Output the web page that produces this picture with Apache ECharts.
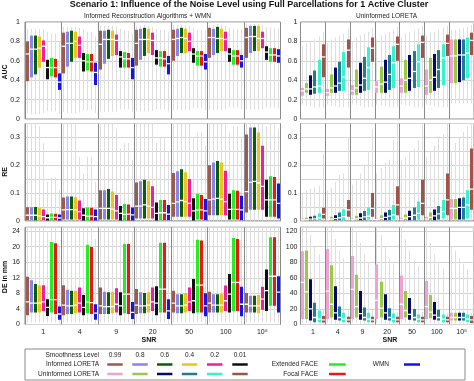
<!DOCTYPE html>
<html><head><meta charset="utf-8">
<script src="https://cdn.jsdelivr.net/npm/echarts@6/dist/echarts.min.js"></script>
<style>html,body{margin:0;padding:0;background:#fff}#c{width:474px;height:381px}</style>
</head><body><div id="c"></div>
<script>
// ---------- categories / labels ----------
const snrLabels = ['1', '4', '9', '20', '50', '100', '10⁸'];
const smoothLevels = ['0.99', '0.8', '0.6', '0.4', '0.2', '0.01'];
const metricNames = ['AUC', 'RE', 'DE in mm'];
const aucTicks = [0, 0.2, 0.4, 0.6, 0.8, 1];
const reTicks = [0, 0.1, 0.2, 0.3];
const deLeftTicks = [0, 4, 8, 12, 16, 20, 24];
const deRightTicks = [0, 20, 40, 60, 80, 100, 120];

// each entry per SNR group: [min, q1, median, q3, max]
// ---------- AUC, informed algorithms ----------
const aucInf099 = [[0.06,0.39,0.67,0.80,0.93],[0.07,0.47,0.75,0.89,0.95],[0.08,0.51,0.77,0.91,0.96],[0.08,0.55,0.78,0.92,0.96],[0.09,0.60,0.82,0.92,0.97],[0.09,0.63,0.84,0.94,0.97],[0.10,0.63,0.84,0.94,0.98]];
const aucInf08  = [[0.05,0.43,0.72,0.86,0.93],[0.06,0.54,0.78,0.90,0.95],[0.07,0.57,0.82,0.91,0.96],[0.08,0.61,0.82,0.93,0.96],[0.09,0.65,0.83,0.93,0.97],[0.09,0.66,0.84,0.93,0.97],[0.10,0.68,0.85,0.96,0.98]];
const aucInf06  = [[0.05,0.46,0.72,0.86,0.93],[0.06,0.59,0.78,0.91,0.95],[0.07,0.62,0.82,0.92,0.96],[0.08,0.65,0.82,0.94,0.97],[0.09,0.68,0.84,0.94,0.97],[0.09,0.68,0.83,0.95,0.98],[0.10,0.70,0.85,0.96,0.98]];
const aucInf04  = [[0.05,0.53,0.73,0.85,0.93],[0.06,0.63,0.80,0.90,0.95],[0.07,0.65,0.82,0.91,0.96],[0.08,0.68,0.82,0.93,0.96],[0.09,0.68,0.83,0.93,0.97],[0.09,0.70,0.83,0.93,0.97],[0.10,0.70,0.83,0.96,0.98]];
const aucInf02  = [[0.06,0.59,0.75,0.81,0.92],[0.07,0.63,0.76,0.85,0.94],[0.08,0.66,0.81,0.87,0.95],[0.08,0.66,0.81,0.89,0.95],[0.09,0.70,0.80,0.89,0.96],[0.10,0.70,0.82,0.90,0.96],[0.10,0.73,0.83,0.90,0.97]];
const aucInf001 = [[0.08,0.41,0.53,0.61,0.90],[0.09,0.49,0.60,0.68,0.92],[0.10,0.53,0.64,0.70,0.93],[0.10,0.56,0.63,0.71,0.93],[0.11,0.58,0.67,0.73,0.94],[0.12,0.59,0.67,0.73,0.94],[0.12,0.61,0.69,0.75,0.95]];
const aucExtFace = [[0.08,0.44,0.53,0.63,0.88],[0.09,0.50,0.59,0.67,0.90],[0.10,0.53,0.62,0.69,0.91],[0.10,0.54,0.63,0.70,0.92],[0.11,0.55,0.65,0.70,0.92],[0.12,0.56,0.65,0.71,0.93],[0.12,0.59,0.66,0.73,0.94]];
const aucFocFace = [[0.08,0.43,0.53,0.62,0.88],[0.09,0.49,0.59,0.67,0.90],[0.10,0.53,0.62,0.68,0.91],[0.10,0.54,0.62,0.70,0.92],[0.11,0.55,0.65,0.70,0.92],[0.12,0.56,0.65,0.71,0.93],[0.12,0.59,0.66,0.73,0.94]];
const aucWmn    = [[0.05,0.30,0.38,0.47,0.80],[0.06,0.35,0.48,0.58,0.85],[0.07,0.41,0.53,0.63,0.88],[0.08,0.46,0.57,0.65,0.90],[0.09,0.51,0.59,0.67,0.91],[0.10,0.53,0.60,0.66,0.92],[0.11,0.58,0.65,0.72,0.93]];
// ---------- AUC, uninformed LORETA ----------
const aucUni099 = [[0.15,0.24,0.29,0.32,0.75],[0.15,0.24,0.27,0.31,0.78],[0.15,0.25,0.29,0.35,0.80],[0.15,0.27,0.33,0.39,0.82],[0.15,0.27,0.34,0.42,0.84],[0.15,0.25,0.34,0.51,0.86],[0.16,0.37,0.65,0.82,0.92]];
const aucUni08  = [[0.14,0.27,0.31,0.37,0.78],[0.14,0.27,0.32,0.46,0.82],[0.14,0.25,0.32,0.51,0.84],[0.14,0.27,0.36,0.54,0.86],[0.14,0.27,0.40,0.61,0.88],[0.14,0.27,0.40,0.63,0.89],[0.16,0.37,0.65,0.82,0.92]];
const aucUni06  = [[0.13,0.25,0.31,0.45,0.80],[0.13,0.27,0.34,0.53,0.84],[0.13,0.27,0.35,0.58,0.86],[0.13,0.27,0.38,0.61,0.88],[0.13,0.29,0.42,0.66,0.89],[0.13,0.29,0.43,0.67,0.90],[0.16,0.38,0.66,0.82,0.93]];
const aucUni04  = [[0.12,0.26,0.33,0.50,0.82],[0.12,0.29,0.37,0.59,0.86],[0.12,0.29,0.42,0.64,0.88],[0.12,0.30,0.46,0.66,0.90],[0.12,0.32,0.49,0.70,0.91],[0.12,0.32,0.51,0.71,0.92],[0.16,0.40,0.66,0.82,0.94]];
const aucUni02  = [[0.12,0.27,0.34,0.61,0.85],[0.12,0.29,0.43,0.69,0.88],[0.12,0.30,0.53,0.74,0.90],[0.12,0.32,0.58,0.75,0.92],[0.12,0.33,0.59,0.77,0.93],[0.12,0.35,0.63,0.77,0.94],[0.16,0.42,0.68,0.84,0.95]];
const aucUni001 = [[0.12,0.43,0.64,0.77,0.90],[0.12,0.53,0.71,0.82,0.93],[0.12,0.59,0.73,0.84,0.94],[0.12,0.60,0.77,0.85,0.95],[0.12,0.63,0.79,0.86,0.96],[0.12,0.65,0.78,0.87,0.96],[0.16,0.66,0.81,0.89,0.97]];
// ---------- RE, informed algorithms ----------
const reInf099 = [[0,0.002,0.020,0.049,0.36],[0,0.005,0.039,0.084,0.36],[0,0.005,0.045,0.110,0.36],[0,0.008,0.053,0.138,0.36],[0,0.015,0.063,0.172,0.36],[0,0.020,0.075,0.200,0.36],[0,0.030,0.105,0.310,0.36]];
const reInf08  = [[0,0.002,0.020,0.049,0.36],[0,0.005,0.040,0.087,0.36],[0,0.005,0.045,0.110,0.36],[0,0.008,0.053,0.142,0.36],[0,0.015,0.068,0.178,0.36],[0,0.020,0.078,0.210,0.36],[0,0.040,0.138,0.336,0.36]];
const reInf06  = [[0,0.001,0.020,0.050,0.36],[0,0.005,0.040,0.087,0.36],[0,0.005,0.045,0.114,0.36],[0,0.008,0.057,0.148,0.36],[0,0.015,0.073,0.185,0.36],[0,0.020,0.081,0.215,0.36],[0,0.040,0.142,0.336,0.36]];
const reInf04  = [[0,0.002,0.018,0.047,0.34],[0,0.005,0.039,0.085,0.36],[0,0.005,0.042,0.105,0.36],[0,0.008,0.053,0.142,0.36],[0,0.015,0.069,0.175,0.36],[0,0.020,0.078,0.210,0.36],[0,0.040,0.136,0.318,0.36]];
const reInf02  = [[0,0.002,0.015,0.041,0.28],[0,0.005,0.033,0.073,0.23],[0,0.005,0.036,0.093,0.33],[0,0.008,0.048,0.124,0.36],[0,0.015,0.063,0.150,0.36],[0,0.020,0.069,0.180,0.36],[0,0.040,0.124,0.270,0.36]];
const reInf001 = [[0,0.000,0.011,0.023,0.14],[0,0.000,0.020,0.045,0.17],[0,0.000,0.027,0.053,0.26],[0,0.000,0.027,0.066,0.28],[0,0.000,0.036,0.081,0.30],[0,0.005,0.041,0.097,0.32],[0,0.015,0.075,0.148,0.34]];
const reExtFace = [[0,0.002,0.012,0.026,0.155],[0,0.000,0.017,0.048,0.23],[0,0.000,0.023,0.060,0.28],[0,0.002,0.029,0.075,0.30],[0,0.005,0.039,0.097,0.32],[0,0.005,0.041,0.110,0.34],[0,0.015,0.075,0.160,0.36]];
const reFocFace = [[0,0.002,0.012,0.025,0.155],[0,0.000,0.017,0.047,0.23],[0,0.000,0.024,0.059,0.28],[0,0.002,0.029,0.075,0.30],[0,0.005,0.039,0.093,0.32],[0,0.005,0.041,0.108,0.34],[0,0.015,0.075,0.158,0.36]];
const reWmn    = [[0,0.000,0.010,0.023,0.11],[0,0.000,0.015,0.041,0.14],[0,0.000,0.021,0.048,0.22],[0,0.002,0.024,0.057,0.25],[0,0.002,0.036,0.078,0.27],[0,0.002,0.039,0.090,0.30],[0,0.008,0.063,0.134,0.33]];
// ---------- RE, uninformed LORETA ----------
const reUni099 = [[0,0,0.003,0.007,0.10],[0,0,0.003,0.006,0.11],[0,0,0.004,0.008,0.13],[0,0,0.004,0.008,0.17],[0,0,0.005,0.011,0.22],[0,0,0.006,0.015,0.23],[0,0.005,0.045,0.078,0.25]];
const reUni08  = [[0,0,0.004,0.011,0.11],[0,0,0.006,0.015,0.12],[0,0,0.007,0.017,0.15],[0,0.002,0.008,0.020,0.19],[0,0.002,0.010,0.023,0.23],[0,0.002,0.012,0.030,0.25],[0,0.005,0.045,0.078,0.28]];
const reUni06  = [[0,0.002,0.006,0.015,0.115],[0,0.002,0.008,0.020,0.14],[0,0.002,0.010,0.027,0.17],[0,0.002,0.012,0.030,0.21],[0,0.002,0.015,0.036,0.25],[0,0.002,0.018,0.041,0.27],[0,0.005,0.048,0.081,0.30]];
const reUni04  = [[0,0.002,0.007,0.018,0.12],[0,0.002,0.011,0.030,0.165],[0,0.002,0.014,0.035,0.20],[0,0.002,0.017,0.039,0.22],[0,0.002,0.020,0.048,0.26],[0,0.005,0.025,0.053,0.30],[0,0.005,0.048,0.084,0.32]];
const reUni02  = [[0,0.002,0.011,0.027,0.125],[0,0.002,0.015,0.041,0.17],[0,0.005,0.017,0.048,0.25],[0,0.005,0.021,0.057,0.29],[0,0.005,0.027,0.069,0.29],[0,0.008,0.033,0.075,0.31],[0,0.008,0.057,0.110,0.34]];
const reUni001 = [[0,0.008,0.023,0.047,0.24],[0,0.015,0.039,0.075,0.30],[0,0.015,0.045,0.100,0.33],[0,0.020,0.057,0.124,0.36],[0,0.020,0.063,0.148,0.36],[0,0.020,0.075,0.170,0.36],[0,0.040,0.114,0.260,0.36]];
// ---------- DE (mm), informed algorithms ----------
const deInf099 = [[0.5,2.4,5.8,12.3,26],[0.5,2.4,5.0,10.1,26],[0.5,2.7,4.8,9.5,26],[0.5,2.7,5.0,9.1,26],[0.5,3.1,5.5,8.7,26],[0.5,3.1,5.5,8.4,26],[0.5,3.1,5.2,8.1,26]];
const deInf08  = [[0.5,3.1,5.5,11.4,26],[0.5,2.7,4.8,8.9,26],[0.5,2.7,4.6,8.4,26],[0.5,2.9,4.8,8.3,26],[0.5,2.9,4.8,7.8,26],[0.5,3.1,5.0,7.8,26],[0.5,3.1,4.8,7.4,26]];
const deInf06  = [[0.5,3.1,5.5,10.4,26],[0.5,2.7,4.8,8.7,26],[0.5,2.7,4.6,8.3,26],[0.5,2.9,4.8,8.1,26],[0.5,2.9,4.8,7.8,26],[0.5,3.1,5.0,7.8,26],[0.5,3.1,4.8,7.4,26]];
const deInf04  = [[0.5,3.1,5.5,10.1,26],[0.5,2.9,5.0,8.7,26],[0.5,2.9,4.6,8.4,26],[0.5,3.1,5.0,8.3,26],[0.5,3.1,5.0,8.1,26],[0.5,3.1,5.0,7.9,26],[0.5,2.9,4.8,7.6,26]];
const deInf02  = [[0.5,3.5,5.8,10.1,26],[0.5,3.1,5.5,9.5,26],[0.5,3.1,5.2,9.3,26],[0.5,3.5,5.8,9.5,26],[0.5,3.5,5.8,9.5,26],[0.5,3.5,6.1,10.0,26],[0.5,3.8,6.5,9.7,26]];
const deInf001 = [[0.5,2.2,4.4,6.5,24],[0.5,2.4,4.4,7.6,25],[0.5,2.4,4.8,8.3,26],[0.5,2.4,5.5,9.8,26],[0.5,2.9,6.1,11.7,26],[0.5,3.1,7.8,13.0,26],[0.5,3.5,8.7,14.1,26]];
const deExtFace = [[0.5,3.1,6.4,21.2,26],[0.5,2.9,5.8,20.5,26],[0.5,2.9,7.8,20.7,26],[0.5,3.1,9.1,21.0,26],[0.5,3.1,10.1,21.8,26],[0.5,3.5,10.8,22.2,26],[0.5,4.8,12.4,22.4,26]];
const deFocFace = [[0.5,2.7,6.4,20.9,26],[0.5,2.7,5.6,19.9,26],[0.5,2.7,7.8,20.7,26],[0.5,3.1,9.1,21.0,26],[0.5,3.1,10.1,21.6,26],[0.5,3.5,10.8,22.0,26],[0.5,4.8,12.4,22.4,26]];
const deWmn    = [[0.2,1.2,2.7,4.6,20],[0.2,1.2,2.9,5.2,22],[0.2,1.4,3.1,5.8,24],[0.2,1.4,3.5,6.5,26],[0.2,2.1,4.8,8.0,26],[0.2,2.1,5.2,9.7,26],[0.3,3.1,8.3,12.4,26]];
// ---------- DE (mm), uninformed LORETA ----------
const deUni099 = [[2,7,54,94,125],[2,7,43,97,125],[2,7,45,88,125],[2,7,31,77,125],[2,7,26,63,125],[2,7,23,56,125],[1,5,9,15,100]];
const deUni08  = [[2,7,42,95,125],[2,9,26,76,125],[2,9,23,64,120],[2,9,21,55,115],[2,9,18,43,110],[2,8,16,38,105],[1,5,9,15,95]];
const deUni06  = [[1,5,20,58,115],[1,6,15,49,110],[1,6,14,43,105],[1,6,15,39,100],[1,6,13,34,95],[1,6,12,29,90],[1,5,9,15,85]];
const deUni04  = [[1,3,9,28,100],[1,5,9,23,95],[1,5,9,22,90],[1,5,9,21,85],[1,5,9,20,82],[1,5,9,19,80],[1,5,9,15,78]];
const deUni02  = [[1,3,7,18,90],[1,3,7,15,85],[1,3,7,15,80],[1,3,7,14,78],[1,3,7,13,75],[1,3,7,13,72],[1,3,7,13,70]];
const deUni001 = [[1,2.6,6,11,20],[1,3,6,10,18],[1,3,6,10,18],[1,3,6,10,16],[1,3,6,10,16],[1,3,6,10,15],[1,2,6,11,15]];

// ---------- colours ----------
const infColors = ['#9e5a4c', '#8585ee', '#075f07', '#f2c21c', '#f01ea0', '#101010'];
const uniColors = ['#f2a2d2', '#9acb45', '#05086e', '#1d7e8c', '#38f2cf', '#a3524a'];
const extFaceColor = '#22ee22', focFaceColor = '#ee1515', wmnColor = '#1414ea';
const leftColors = infColors.concat([extFaceColor, focFaceColor, wmnColor]);

const FONT = "'Liberation Sans', Arial, sans-serif";

const panels = [
  { grid: { left: 25, top: 22, width: 255.5, height: 97 }, sets: [aucInf099, aucInf08, aucInf06, aucInf04, aucInf02, aucInf001, aucExtFace, aucFocFace, aucWmn], colors: leftColors, y: { max: 1, interval: 0.2 }, xLabels: false },
  { grid: { left: 300.5, top: 22, width: 173.5, height: 97 }, sets: [aucUni099, aucUni08, aucUni06, aucUni04, aucUni02, aucUni001], colors: uniColors, y: { max: 1, interval: 0.2 }, xLabels: false },
  { grid: { left: 25, top: 123.5, width: 255.5, height: 97.3 }, sets: [reInf099, reInf08, reInf06, reInf04, reInf02, reInf001, reExtFace, reFocFace, reWmn], colors: leftColors, y: { max: 0.35, interval: 0.05, re: true }, xLabels: false },
  { grid: { left: 300.5, top: 123.5, width: 173.5, height: 97.3 }, sets: [reUni099, reUni08, reUni06, reUni04, reUni02, reUni001], colors: uniColors, y: { max: 0.35, interval: 0.05, re: true }, xLabels: false },
  { grid: { left: 25, top: 227.2, width: 255.5, height: 97.3 }, sets: [deInf099, deInf08, deInf06, deInf04, deInf02, deInf001, deExtFace, deFocFace, deWmn], colors: leftColors, y: { max: 25, interval: 4 }, xLabels: true },
  { grid: { left: 300.5, top: 227.2, width: 173.5, height: 97.3 }, sets: [deUni099, deUni08, deUni06, deUni04, deUni02, deUni001], colors: uniColors, y: { max: 125, interval: 20 }, xLabels: true }
];

function makeRender(slot, nSlots, color) {
  return function (params, api) {
    const c = api.value(0);
    const bw = api.size([1, 0])[0];
    const center = api.coord([c, 0])[0];
    const x = center - bw / 2 + bw * (slot + 0.5) / nSlots;
    const xw = Math.round(x - 0.5) + 0.5;
    const yMin = api.coord([c, api.value(1)])[1];
    const yQ1 = api.coord([c, api.value(2)])[1];
    const yMed = api.coord([c, api.value(3)])[1];
    const yQ3 = api.coord([c, api.value(4)])[1];
    const yMax = api.coord([c, api.value(5)])[1];
    const w = 3;
    return {
      type: 'group',
      children: [
        { type: 'line', shape: { x1: xw, y1: yMin, x2: xw, y2: yMax }, style: { stroke: '#dedede', lineWidth: 1 } },
        { type: 'rect', shape: { x: xw - w / 2, y: yQ3, width: w, height: Math.max(yQ1 - yQ3, 0.8) }, style: { fill: color } },
        { type: 'line', shape: { x1: xw - w / 2 - 0.3, y1: yMed, x2: xw + w / 2 + 0.3, y2: yMed }, style: { stroke: '#ffffff', lineWidth: 1.3 } }
      ]
    };
  };
}

const grids = [], xAxes = [], yAxes = [], series = [];
panels.forEach((p, gi) => {
  grids.push(Object.assign({ show: true, borderColor: '#8a8a8a', borderWidth: 1, backgroundColor: 'transparent' }, p.grid));
  xAxes.push({
    type: 'category', gridIndex: gi, data: snrLabels, boundaryGap: true,
    axisLine: { show: false }, axisTick: { show: false },
    axisLabel: { show: p.xLabels, fontSize: 7, color: '#222', margin: 4, fontFamily: FONT, interval: 0 },
    splitLine: { show: true, interval: 0, lineStyle: { color: '#8a8a8a', width: 1 } }
  });
  yAxes.push({
    type: 'value', gridIndex: gi, min: 0, max: p.y.max, interval: p.y.interval,
    axisLine: { show: false }, axisTick: { show: false },
    axisLabel: {
      fontSize: 7, color: '#222', fontFamily: FONT, margin: gi % 2 === 0 ? 5 : 3, showMaxLabel: !(p.y.re || p.y.max === 25 || p.y.max === 125),
      formatter: p.y.re ? (v) => (Math.round(v * 100) % 10 === 0 ? String(+v.toFixed(1)) : '') : (v) => String(+v.toFixed(2))
    },
    splitLine: { show: true, lineStyle: { color: '#d4d4d4', width: 1 } }
  });
  const n = p.sets.length;
  p.sets.forEach((set, si) => {
    series.push({
      type: 'custom', xAxisIndex: gi, yAxisIndex: gi, clip: true, silent: true,
      renderItem: makeRender(si, n, p.colors[si]),
      encode: { x: 0, y: [1, 2, 3, 4, 5] },
      data: set.map((v, k) => [k].concat(v))
    });
  });
});

// ---------- titles, axis names, legend (real text) ----------
const graphic = [];
function txt(t, x, y, opt) {
  graphic.push(Object.assign({ type: 'text', x: x, y: y, style: Object.assign({ text: t, fontFamily: FONT, fontSize: 6.5, fill: '#222', align: 'center', verticalAlign: 'middle' }, opt || {}) }));
}
txt('Scenario 1: Influence of the Noise Level using Full Parcellations for 1 Active Cluster', 249, 5, { fontSize: 9, fontWeight: 'bold', fill: '#111' });
txt('Informed Reconstruction Algorithms + WMN', 147.5, 16, { fontSize: 6.5 });
txt('Uninformed LORETA', 386.5, 16.5, { fontSize: 6.5 });
[['AUC', 72], ['RE', 172], ['DE in mm', 277]].forEach(([t, yc]) => {
  graphic.push({ type: 'text', x: 5, y: yc, rotation: Math.PI / 2, style: { text: t, fontFamily: FONT, fontSize: 7, fontWeight: 'bold', fill: '#111', align: 'center', verticalAlign: 'middle' } });
});
txt('SNR', 149, 340.5, { fontSize: 7, fontWeight: 'bold', fill: '#111' });
txt('SNR', 390, 340.5, { fontSize: 7, fontWeight: 'bold', fill: '#111' });

graphic.push({ type: 'rect', shape: { x: 25, y: 349, width: 440, height: 31 }, style: { fill: 'none', stroke: '#8a8a8a', lineWidth: 1 } });
const legCx = [115, 140, 164.7, 189.5, 214.7, 240];
txt('Smoothness Level', 99, 355, { align: 'right' });
smoothLevels.forEach((s, i) => txt(s, legCx[i], 355));
txt('Informed LORETA', 99, 364.5, { align: 'right' });
txt('Uninformed LORETA', 99, 374, { align: 'right' });
function legLine(x1, x2, y, color) {
  graphic.push({ type: 'line', shape: { x1: x1, y1: y, x2: x2, y2: y }, style: { stroke: color, lineWidth: 2.5 } });
}
infColors.forEach((c, i) => legLine(legCx[i] - 7.7, legCx[i] + 7.7, 364.5, c));
uniColors.forEach((c, i) => legLine(legCx[i] - 7.7, legCx[i] + 7.7, 374, c));
txt('Extended FACE', 318, 364.5, { align: 'right' });
txt('Focal FACE', 318, 374, { align: 'right' });
legLine(329, 345.7, 364.5, extFaceColor);
legLine(329, 345.7, 374, focFaceColor);
txt('WMN', 389, 364.5, { align: 'right' });
legLine(404, 420, 364.5, wmnColor);

const chart = echarts.init(document.getElementById('c'), null, { renderer: 'canvas' });
chart.setOption({
  animation: false,
  backgroundColor: '#ffffff',
  grid: grids, xAxis: xAxes, yAxis: yAxes, series: series,
  graphic: graphic
});
</script></body></html>
